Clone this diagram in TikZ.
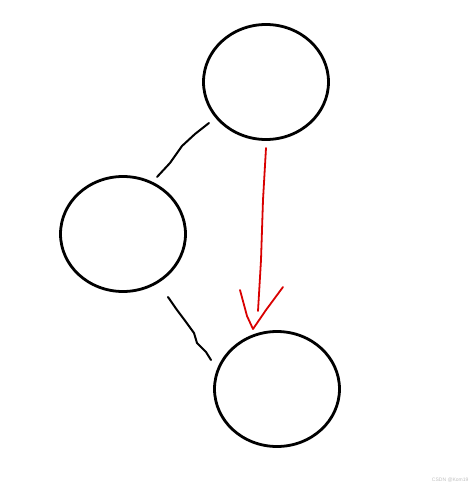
\documentclass[tikz,border=0pt]{standalone}
\usepackage{fontspec}
\setmainfont{Liberation Sans}
\usetikzlibrary{shapes.geometric}
\begin{document}
\begin{tikzpicture}[x=1pt,y=-1pt,
  circ/.style={draw=black,ellipse,line width=2.8pt,minimum width=125pt,minimum height=115pt,inner sep=0pt,outer sep=0pt},
  sketch/.style={draw=black,line width=2pt,line cap=round,line join=round},
  redpen/.style={draw=red!85!black,line width=1.8pt,line cap=round,line join=round}]
\useasboundingbox (0,0) rectangle (474,492);
\node[circ] (top) at (266,82) {};
\node[circ] (left) at (123,234) {};
\node[circ] (bot) at (277,389) {};
% black hand-drawn connectors
\coordinate (a1) at (157,177);
\coordinate (a2) at (209,123);
\draw[sketch] (a1) -- (170,163) -- (182,146) -- (195,134) -- (a2);
\coordinate (b1) at (168,297);
\coordinate (b2) at (211,360);
\draw[sketch] (b1) -- (177,310) -- (186,322) -- (194,333) -- (197,343) -- (206,352) -- (b2);
% red arrow
\coordinate (s) at (266,148);
\coordinate (e) at (258,311);
\coordinate (tip) at (253,329);
\coordinate (al) at (240,290);
\coordinate (ar) at (283,287);
\draw[redpen] (s) -- (263,200) -- (261,260) -- (e);
\draw[redpen] (al) -- (247,316) -- (tip) -- (266,310) -- (ar);
\node[text=black!25,font=\fontsize{5}{6}\selectfont,anchor=east] (wm) at (472,480) {CSDN @Kom19};
\end{tikzpicture}
\end{document}
